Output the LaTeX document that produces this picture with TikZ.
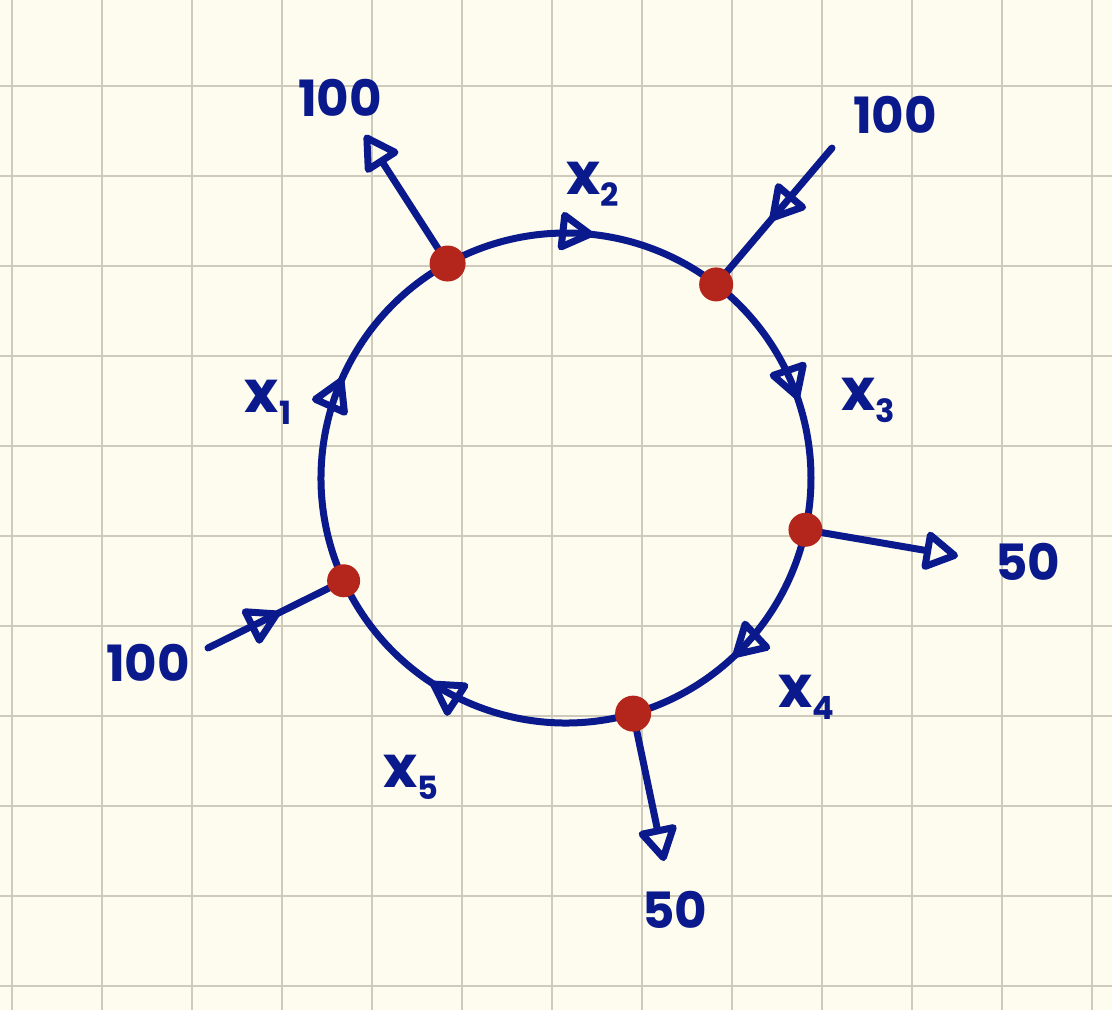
\documentclass[tikz,border=0pt]{standalone}
\usepackage{fontspec}
\setmainfont{Poppins}
\usetikzlibrary{arrows.meta,decorations.markings}
\definecolor{ink}{RGB}{10,26,140}
\definecolor{dotred}{RGB}{180,38,28}
\definecolor{paper}{RGB}{254,252,238}
\definecolor{gridc}{RGB}{206,203,188}
\pgfdeclarelayer{bg}
\pgfdeclarelayer{edges}
\pgfsetlayers{bg,edges,main}
\newcommand{\subdig}[1]{\raisebox{-12pt}{\fontsize{32}{32}\selectfont #1}}
\begin{document}
\begin{tikzpicture}[x=1pt,y=1pt,
  >={Triangle[open,round,length=38pt,width=42pt]},
  flow/.style={draw=ink,line width=7pt,line cap=round,line join=round},
  midarrow/.style={postaction={decorate},decoration={markings,mark=at position #1 with {\arrow{>}}}},
  dot/.style={circle,fill=dotred,draw=none,minimum size=36pt,inner sep=0pt},
  lbl/.style={text=ink,inner sep=0pt,font=\fontsize{50}{50}\selectfont\bfseries},
  xlbl/.style={lbl,font=\fontsize{58}{58}\selectfont\bfseries},
  gridline/.style={draw=gridc,line width=1.6pt}]
\useasboundingbox (0,0) rectangle (1112,-1010);
\begin{pgfonlayer}{bg}
  \fill[paper] (0,0) rectangle (1112,-1010);
  \foreach \i in {0,...,12} \draw[gridline] (11.7+90*\i,0) -- (11.7+90*\i,-1010);
  \foreach \j in {0,...,10} \draw[gridline] (0,-86-90*\j) -- (1112,-86-90*\j);
\end{pgfonlayer}
\coordinate (C) at (566,-478);
\node[dot] (d1) at ([shift={(118.9:245)}]C) {};
\node[dot,minimum size=34pt] (d2) at ([shift={(52.2:245)}]C) {};
\node[dot,minimum size=34pt] (d3) at ([shift={(-12.2:245)}]C) {};
\node[dot] (d4) at ([shift={(-74.1:245)}]C) {};
\node[dot,minimum size=33pt] (d5) at ([shift={(-155.2:245)}]C) {};
\coordinate (o1) at (365,-135);
\coordinate (i2) at (832,-148);
\coordinate (o3) at (958,-556);
\coordinate (o4) at (664,-861);
\coordinate (i5) at (208,-648);
\begin{pgfonlayer}{edges}
  \draw[flow,midarrow=0.53] (d1.center) arc[start angle=118.9,end angle=52.2,radius=245];
  \draw[flow,midarrow=0.52] (d2.center) arc[start angle=52.2,end angle=-12.2,radius=245];
  \draw[flow,midarrow=0.56] (d3.center) arc[start angle=-12.2,end angle=-74.1,radius=245];
  \draw[flow,midarrow=0.61] (d4.center) arc[start angle=-74.1,end angle=-155.2,radius=245];
  \draw[flow,midarrow=0.57] (d5.center) arc[start angle=204.8,end angle=118.9,radius=245];
  \draw[flow,->] (d1.center) -- (o1);
  \draw[flow,midarrow=0.53] (i2) -- (d2.center);
  \draw[flow,->] (d3.center) -- (o3);
  \draw[flow,->] (d4.center) -- (o4);
  \draw[flow,midarrow=0.53] (i5) -- (d5.center);
\end{pgfonlayer}
\node[lbl] (t1) at (340,-98) {100};
\node[lbl] (t2) at (895,-115) {100};
\node[lbl] (t3) at (1028,-562) {50};
\node[lbl] (t4) at (675,-910) {50};
\node[lbl] (t5) at (148,-663) {100};
\node[xlbl] (x2) at (593,-184) {x\subdig{2}};
\node[xlbl] (x3) at (868,-400) {x\subdig{3}};
\node[xlbl] (x4) at (806,-697) {x\subdig{4}};
\node[xlbl] (x5) at (411,-777) {x\subdig{5}};
\node[xlbl] (x1) at (268,-402) {x\subdig{1}};
\end{tikzpicture}
\end{document}
